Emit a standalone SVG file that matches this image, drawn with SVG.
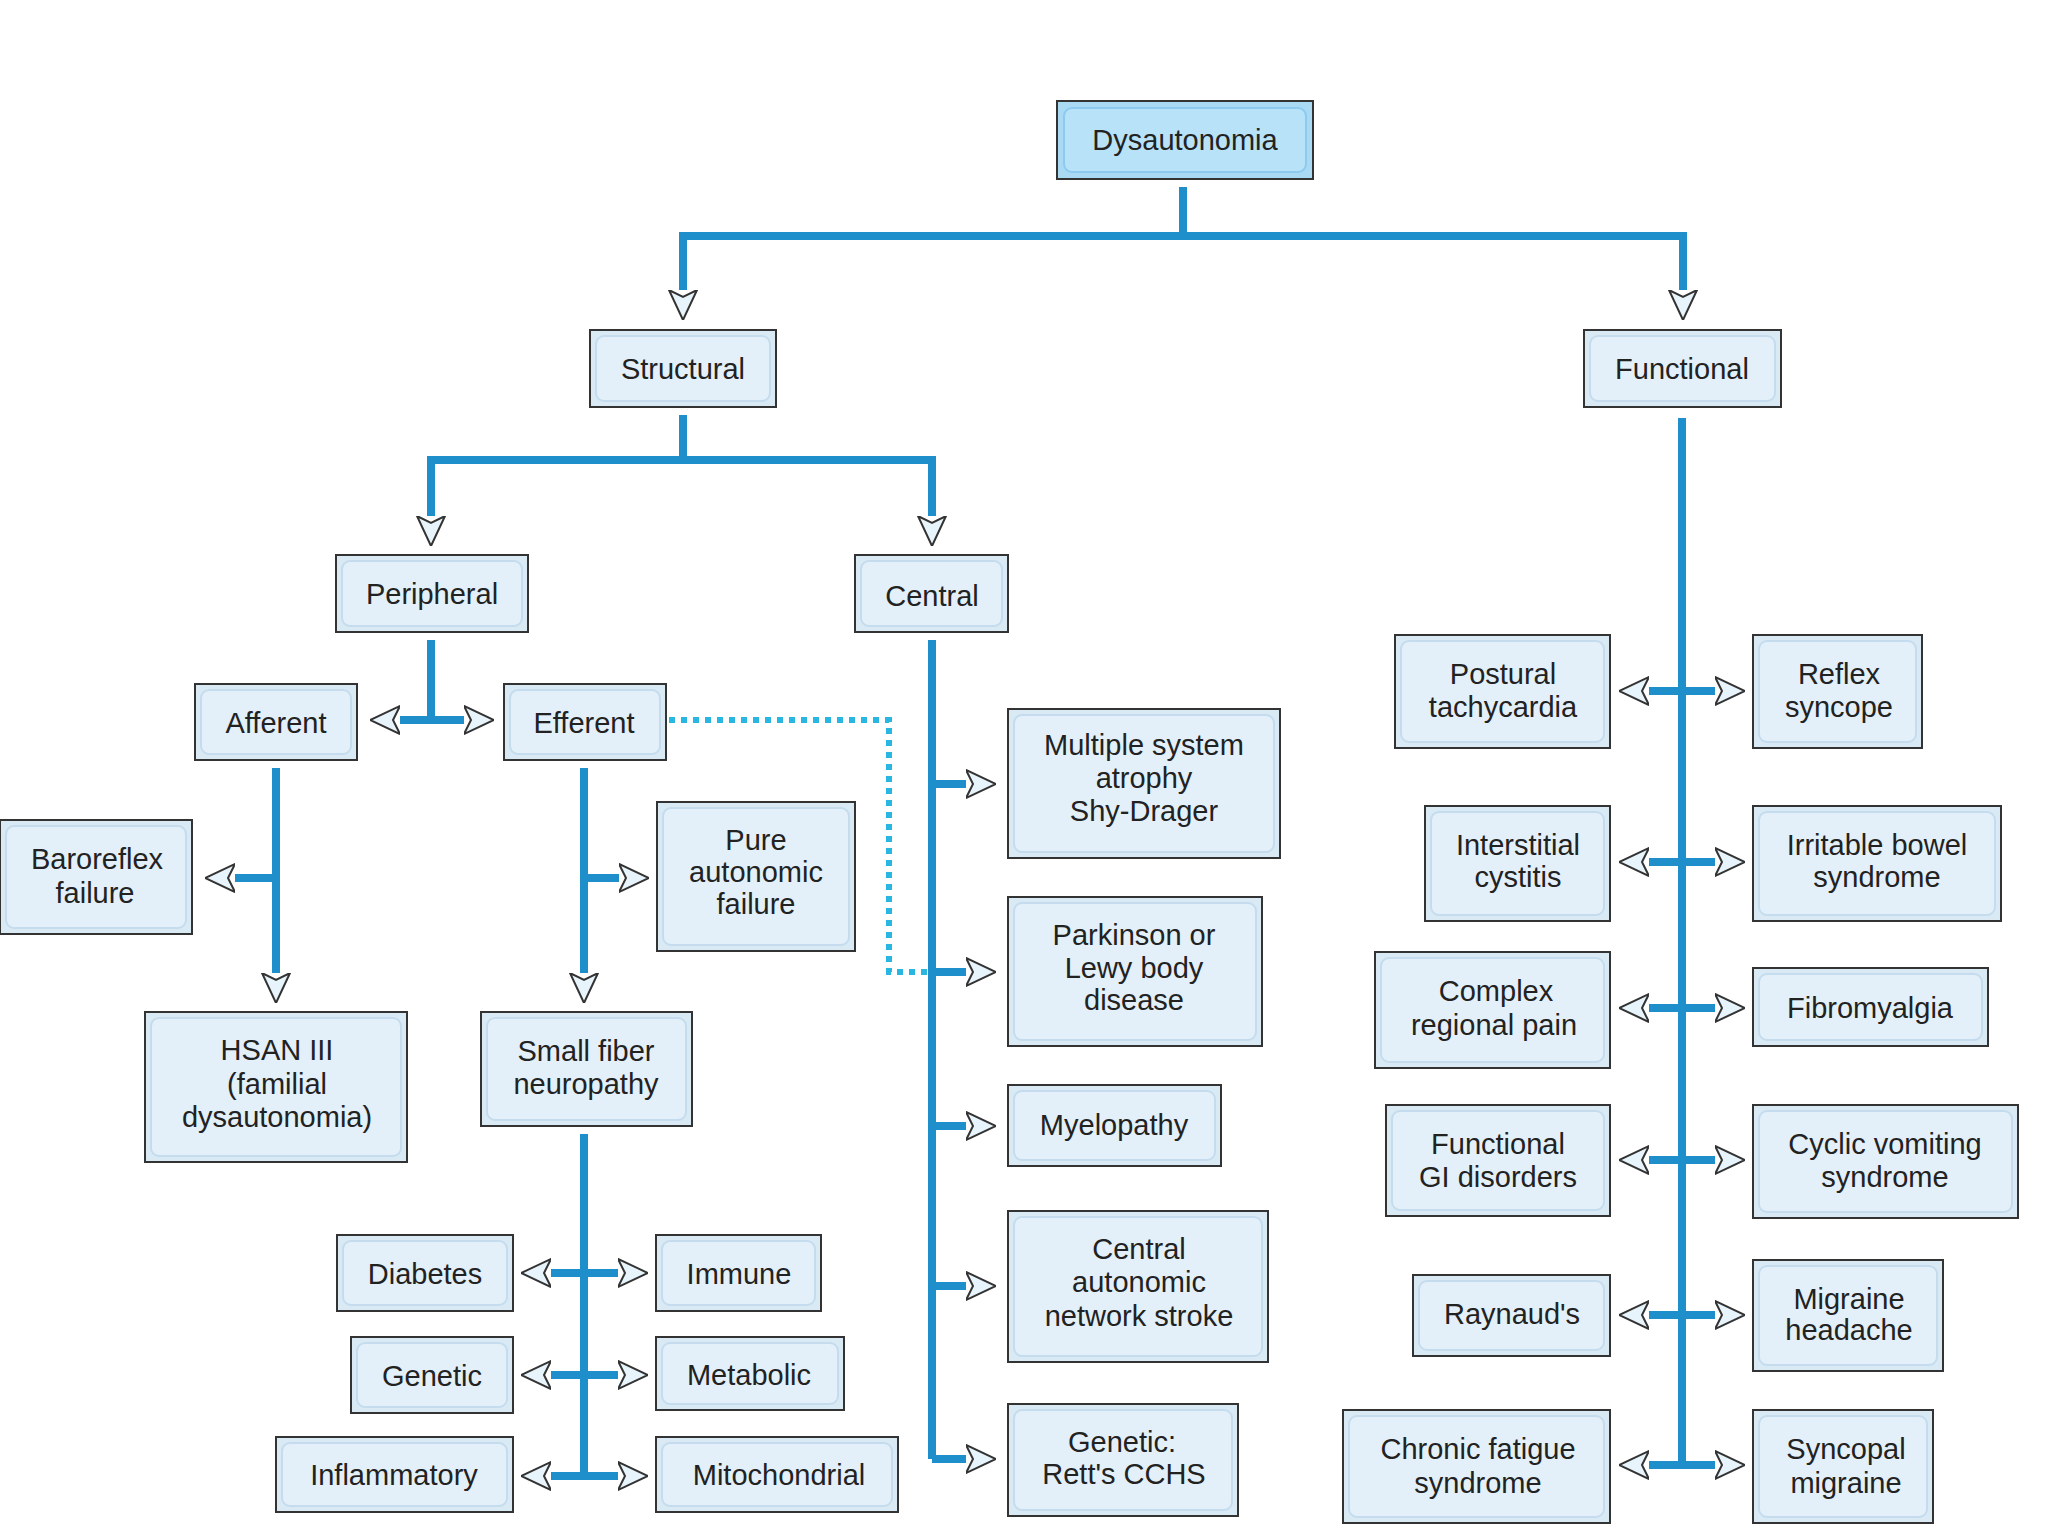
<svg xmlns="http://www.w3.org/2000/svg" width="2048" height="1536" viewBox="0 0 2048 1536">
<style>
.o{fill:#d9eaf5;stroke:#333;stroke-width:2}
.i{fill:#e3f0f9;stroke:#c4dcee;stroke-width:2}
.root .o{fill:#a9d9f3}
.root .i{fill:#b8e2f8;stroke:#8ccbef}
text{font-family:"Liberation Sans",Arial,sans-serif;font-size:29px;fill:#222;text-anchor:middle}
.e{fill:none;stroke:#1e8fca;stroke-width:8}
.a{marker-end:url(#ah)}
.d{marker-start:url(#ah);marker-end:url(#ah)}
</style>
<defs>
<marker id="ah" viewBox="0 0 30 30" refX="0" refY="15" markerWidth="30" markerHeight="30" markerUnits="userSpaceOnUse" orient="auto-start-reverse">
<path d="M0,1 L30,15 L0,29 L7,15 z" fill="#e8f4fb" stroke="#333" stroke-width="2" stroke-linejoin="miter"/>
</marker>
</defs>
<rect width="2048" height="1536" fill="#fff"/>
<g id="connectors">
<path class="e" d="M1183,187 V236"/>
<path class="e d" d="M683,290 V236 H1683 V290"/>
<path class="e" d="M683,415 V460"/>
<path class="e d" d="M431,516 V460 H932 V516"/>
<path class="e" d="M431,640 V720"/>
<path class="e d" d="M400,720 H464"/>
<path class="e a" d="M276,768 V973"/>
<path class="e a" d="M276,878 H235"/>
<path class="e a" d="M584,768 V973"/>
<path class="e a" d="M584,878 H619"/>
<path d="M669,720 H889 V972 H932" fill="none" stroke="#29b6e0" stroke-width="6" stroke-dasharray="6,6"/>
<path class="e" d="M584,1134 V1476"/>
<path class="e d" d="M551,1273 H618"/>
<path class="e d" d="M551,1375 H618"/>
<path class="e d" d="M551,1476 H618"/>
<path class="e" d="M932,640 V1459"/>
<path class="e a" d="M932,784 H966"/>
<path class="e a" d="M932,972 H966"/>
<path class="e a" d="M932,1126 H966"/>
<path class="e a" d="M932,1286 H966"/>
<path class="e a" d="M932,1459 H966"/>
<path class="e" d="M1682,418 V1465"/>
<path class="e d" d="M1649,691 H1715"/>
<path class="e d" d="M1649,862 H1715"/>
<path class="e d" d="M1649,1008 H1715"/>
<path class="e d" d="M1649,1160 H1715"/>
<path class="e d" d="M1649,1315 H1715"/>
<path class="e d" d="M1649,1465 H1715"/>
</g>
<g id="dysautonomia" class="root"><rect class="o" x="1057" y="101" width="256" height="78"/><rect class="i" x="1064" y="108" width="242" height="64" rx="8"/><text x="1185" y="150">Dysautonomia</text></g>
<g id="structural"><rect class="o" x="590" y="330" width="186" height="77"/><rect class="i" x="596" y="336" width="174" height="65" rx="8"/><text x="683" y="379">Structural</text></g>
<g id="functional"><rect class="o" x="1584" y="330" width="197" height="77"/><rect class="i" x="1590" y="336" width="185" height="65" rx="8"/><text x="1682" y="379">Functional</text></g>
<g id="peripheral"><rect class="o" x="336" y="555" width="192" height="77"/><rect class="i" x="342" y="561" width="180" height="65" rx="8"/><text x="432" y="604">Peripheral</text></g>
<g id="central"><rect class="o" x="855" y="555" width="153" height="77"/><rect class="i" x="861" y="561" width="141" height="65" rx="8"/><text x="932" y="606">Central</text></g>
<g id="afferent"><rect class="o" x="195" y="684" width="162" height="76"/><rect class="i" x="201" y="690" width="150" height="64" rx="8"/><text x="276" y="733">Afferent</text></g>
<g id="efferent"><rect class="o" x="504" y="684" width="162" height="76"/><rect class="i" x="510" y="690" width="150" height="64" rx="8"/><text x="584" y="733">Efferent</text></g>
<g id="baroreflex"><rect class="o" x="0" y="820" width="192" height="114"/><rect class="i" x="6" y="826" width="180" height="102" rx="8"/><text x="97" y="869">Baroreflex</text><text x="95" y="903">failure</text></g>
<g id="pure"><rect class="o" x="657" y="802" width="198" height="149"/><rect class="i" x="663" y="808" width="186" height="137" rx="8"/><text x="756" y="850">Pure</text><text x="756" y="882">autonomic</text><text x="756" y="914">failure</text></g>
<g id="hsan"><rect class="o" x="145" y="1012" width="262" height="150"/><rect class="i" x="151" y="1018" width="250" height="138" rx="8"/><text x="277" y="1060">HSAN III</text><text x="277" y="1094">(familial</text><text x="277" y="1127">dysautonomia)</text></g>
<g id="smallfiber"><rect class="o" x="481" y="1012" width="211" height="114"/><rect class="i" x="487" y="1018" width="199" height="102" rx="8"/><text x="586" y="1061">Small fiber</text><text x="586" y="1094">neuropathy</text></g>
<g id="diabetes"><rect class="o" x="337" y="1235" width="176" height="76"/><rect class="i" x="343" y="1241" width="164" height="64" rx="8"/><text x="425" y="1284">Diabetes</text></g>
<g id="immune"><rect class="o" x="656" y="1235" width="165" height="76"/><rect class="i" x="662" y="1241" width="153" height="64" rx="8"/><text x="739" y="1284">Immune</text></g>
<g id="genetic"><rect class="o" x="351" y="1337" width="162" height="76"/><rect class="i" x="357" y="1343" width="150" height="64" rx="8"/><text x="432" y="1386">Genetic</text></g>
<g id="metabolic"><rect class="o" x="656" y="1337" width="188" height="73"/><rect class="i" x="662" y="1343" width="176" height="61" rx="8"/><text x="749" y="1385">Metabolic</text></g>
<g id="inflammatory"><rect class="o" x="276" y="1437" width="237" height="75"/><rect class="i" x="282" y="1443" width="225" height="63" rx="8"/><text x="394" y="1485">Inflammatory</text></g>
<g id="mitochondrial"><rect class="o" x="656" y="1437" width="242" height="75"/><rect class="i" x="662" y="1443" width="230" height="63" rx="8"/><text x="779" y="1485">Mitochondrial</text></g>
<g id="msa"><rect class="o" x="1008" y="709" width="272" height="149"/><rect class="i" x="1014" y="715" width="260" height="137" rx="8"/><text x="1144" y="755">Multiple system</text><text x="1144" y="788">atrophy</text><text x="1144" y="821">Shy-Drager</text></g>
<g id="parkinson"><rect class="o" x="1008" y="897" width="254" height="149"/><rect class="i" x="1014" y="903" width="242" height="137" rx="8"/><text x="1134" y="945">Parkinson or</text><text x="1134" y="978">Lewy body</text><text x="1134" y="1010">disease</text></g>
<g id="myelopathy"><rect class="o" x="1008" y="1085" width="213" height="81"/><rect class="i" x="1014" y="1091" width="201" height="69" rx="8"/><text x="1114" y="1135">Myelopathy</text></g>
<g id="can"><rect class="o" x="1008" y="1211" width="260" height="151"/><rect class="i" x="1014" y="1217" width="248" height="139" rx="8"/><text x="1139" y="1259">Central</text><text x="1139" y="1292">autonomic</text><text x="1139" y="1326">network stroke</text></g>
<g id="rett"><rect class="o" x="1008" y="1404" width="230" height="112"/><rect class="i" x="1014" y="1410" width="218" height="100" rx="8"/><text x="1122" y="1452">Genetic:</text><text x="1124" y="1484">Rett's CCHS</text></g>
<g id="postural"><rect class="o" x="1395" y="635" width="215" height="113"/><rect class="i" x="1401" y="641" width="203" height="101" rx="8"/><text x="1503" y="684">Postural</text><text x="1503" y="717">tachycardia</text></g>
<g id="reflex"><rect class="o" x="1753" y="635" width="169" height="113"/><rect class="i" x="1759" y="641" width="157" height="101" rx="8"/><text x="1839" y="684">Reflex</text><text x="1839" y="717">syncope</text></g>
<g id="interstitial"><rect class="o" x="1425" y="806" width="185" height="115"/><rect class="i" x="1431" y="812" width="173" height="103" rx="8"/><text x="1518" y="855">Interstitial</text><text x="1518" y="887">cystitis</text></g>
<g id="ibs"><rect class="o" x="1753" y="806" width="248" height="115"/><rect class="i" x="1759" y="812" width="236" height="103" rx="8"/><text x="1877" y="855">Irritable bowel</text><text x="1877" y="887">syndrome</text></g>
<g id="complex"><rect class="o" x="1375" y="952" width="235" height="116"/><rect class="i" x="1381" y="958" width="223" height="104" rx="8"/><text x="1496" y="1001">Complex</text><text x="1494" y="1035">regional pain</text></g>
<g id="fibromyalgia"><rect class="o" x="1753" y="968" width="235" height="78"/><rect class="i" x="1759" y="974" width="223" height="66" rx="8"/><text x="1870" y="1018">Fibromyalgia</text></g>
<g id="gi"><rect class="o" x="1386" y="1105" width="224" height="111"/><rect class="i" x="1392" y="1111" width="212" height="99" rx="8"/><text x="1498" y="1154">Functional</text><text x="1498" y="1187">GI disorders</text></g>
<g id="cyclic"><rect class="o" x="1753" y="1105" width="265" height="113"/><rect class="i" x="1759" y="1111" width="253" height="101" rx="8"/><text x="1885" y="1154">Cyclic vomiting</text><text x="1885" y="1187">syndrome</text></g>
<g id="raynaud"><rect class="o" x="1413" y="1275" width="197" height="81"/><rect class="i" x="1419" y="1281" width="185" height="69" rx="8"/><text x="1512" y="1324">Raynaud's</text></g>
<g id="migraine"><rect class="o" x="1753" y="1260" width="190" height="111"/><rect class="i" x="1759" y="1266" width="178" height="99" rx="8"/><text x="1849" y="1309">Migraine</text><text x="1849" y="1340">headache</text></g>
<g id="chronic"><rect class="o" x="1343" y="1410" width="267" height="113"/><rect class="i" x="1349" y="1416" width="255" height="101" rx="8"/><text x="1478" y="1459">Chronic fatigue</text><text x="1478" y="1493">syndrome</text></g>
<g id="syncopal"><rect class="o" x="1753" y="1410" width="180" height="113"/><rect class="i" x="1759" y="1416" width="168" height="101" rx="8"/><text x="1846" y="1459">Syncopal</text><text x="1846" y="1493">migraine</text></g>
</svg>
